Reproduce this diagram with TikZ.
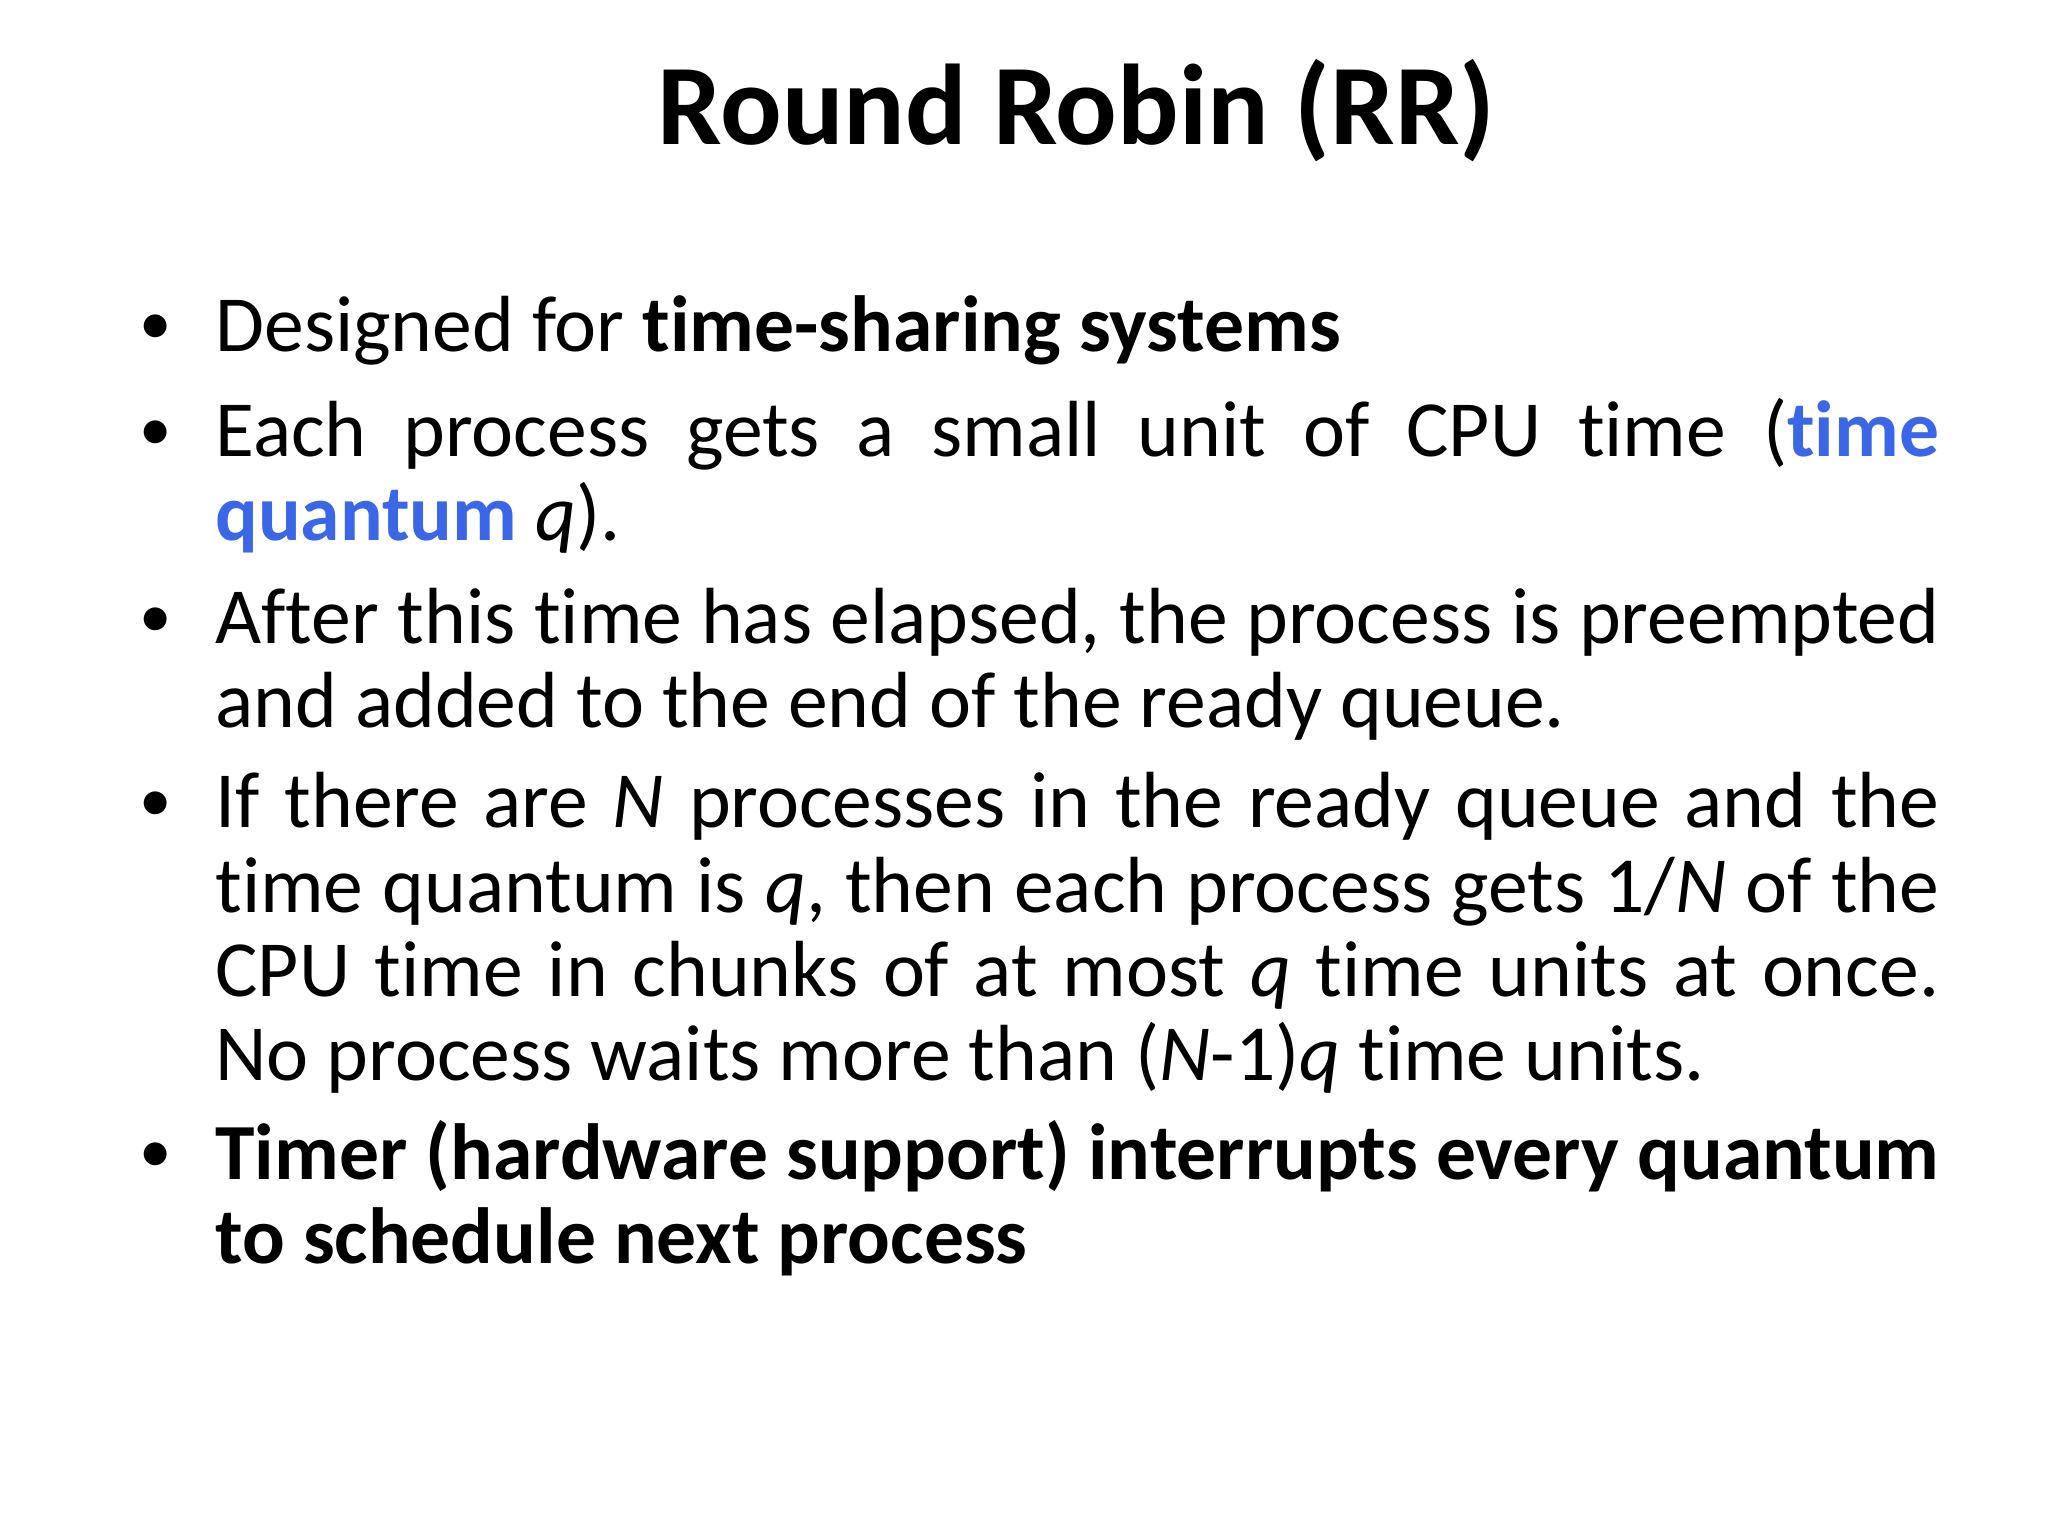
\documentclass[tikz,border=0pt]{standalone}
\usepackage{fontspec}
\setmainfont{Carlito}[RawFeature={-liga;-clig}]
\definecolor{qblue}{RGB}{59,102,232}
\begin{document}
\begin{tikzpicture}[x=0.01cm,y=-0.01cm,
  item/.style={anchor=base west,inner sep=0pt,font=\fontsize{17.2pt}{18.2pt}\selectfont},
  bul/.style={anchor=base west,inner sep=0pt,font=\fontsize{14pt}{18.2pt}\selectfont}]
\useasboundingbox[fill=white] (0,0) rectangle (1556,1167);
\node[anchor=base,inner sep=0pt,font=\fontsize{24.8pt}{30pt}\selectfont\bfseries] (title) at (818,110) {Round Robin (RR)};
\newcommand{\itm}[3]{%
  \node[bul] (b#1) at (105,#2-5) {•};
  \node[item] (t#1) at (163,#2) {\parbox[t]{13.09cm}{\fontsize{17.2pt}{18.2pt}\selectfont\justifying #3}};}
\newcommand{\justifying}{\hyphenpenalty=10000\exhyphenpenalty=10000\rightskip=0pt\leftskip=0pt\parfillskip=0pt plus 1fil}
\itm{1}{267}{Designed for \textbf{time-sharing systems}}
\itm{2}{347}{Each process gets a small unit of CPU time (\textbf{\color{qblue}time}\linebreak \textbf{\color{qblue}quantum} \textit{q}).}
\itm{3}{489}{After this time has elapsed, the process is preempted\linebreak and added to the end of the ready queue.}
\itm{4}{629}{If there are \textit{N} processes in the ready queue and the\linebreak time quantum is \textit{q}, then each process gets 1/\textit{N} of the\linebreak CPU time in chunks of at most \textit{q} time units at once.\linebreak No process waits more than (\textit{N}-1)\textit{q} time units.}
\itm{5}{896}{\textbf{Timer (hardware support) interrupts every quantum\linebreak to schedule next process}}
\end{tikzpicture}
\end{document}
